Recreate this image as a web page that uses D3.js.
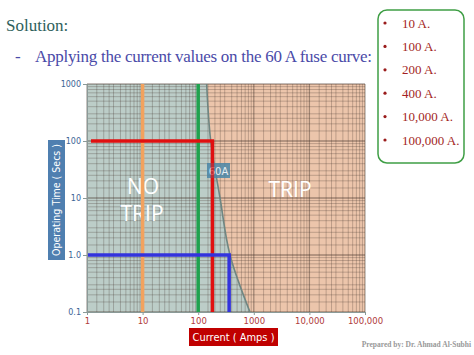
<!DOCTYPE html>
<html>
<head>
<meta charset="utf-8">
<script src="https://cdn.jsdelivr.net/npm/d3@7"></script>
<style>
  body { margin: 0; background: #fff; }
  svg { display: block; }
</style>
</head>
<body>
<div id="chart"></div>
<script>
// fuse curve (60 A)
var fuseCurrent = [142, 168, 247, 373, 853]
var fuseTime = [1000, 100, 10, 1, 0.1]

// check currents drawn on the curve
var checkCurrent = [10, 100, 180, 360]
var checkTime = [null, null, 100, 1]
var checkColor = ["#f2a25e", "#1fa24f", "#e01010", "#3333dd"]

var timeTicks = [0.1, 1, 10, 100, 1000]
var timeTickLabels = ["0.1", "1.0", "10", "100", "1000"]
var currentTicks = [1, 10, 100, 1000, 10000, 100000]
var currentTickLabels = ["1", "10", "100", "1000", "10,000", "100,000"]

var listItems = ["10 A.", "100 A.", "200 A.", "400 A.", "10,000 A.", "100,000 A."]

var width = 474, height = 355
var plot = { left: 87, right: 365, top: 84, bottom: 312 }

var svg = d3.select("#chart").append("svg")
  .attr("width", width)
  .attr("height", height)

// heading
svg.append("text")
  .attr("x", 6).attr("y", 31)
  .style("font-family", "Liberation Serif, serif")
  .style("font-size", "17px")
  .attr("fill", "#2f5f5c")
  .text("Solution:")

svg.append("text")
  .attr("x", 15).attr("y", 62)
  .style("font-family", "Liberation Serif, serif")
  .style("font-size", "17px")
  .attr("fill", "#4a4aa8")
  .text("-")

svg.append("text")
  .attr("x", 35).attr("y", 62)
  .style("font-family", "Liberation Serif, serif")
  .style("font-size", "17px")
  .attr("fill", "#4a4aa8")
  .attr("textLength", 337)
  .text("Applying the current values on the 60 A fuse curve:")

// list box
svg.append("rect")
  .attr("x", 378).attr("y", 10)
  .attr("width", 86).attr("height", 153)
  .attr("rx", 9)
  .attr("fill", "none")
  .attr("stroke", "#3f9e45")
  .attr("stroke-width", 1.5)

var items = svg.append("g").selectAll("g")
  .data(listItems).enter()
  .append("g")
  .attr("transform", (d, i) => `translate(0,${23 + i * 23.4})`)

items.append("circle")
  .attr("cx", 385).attr("cy", 0).attr("r", 1.6)
  .attr("fill", "#9a1c1c")

items.append("text")
  .attr("x", 402).attr("dy", "0.35em")
  .style("font-family", "Liberation Serif, serif")
  .style("font-size", "13px")
  .attr("fill", "#a31f24")
  .text(d => d)

// scales
var xScale = d3.scaleLog()
  .domain([1, 100000])
  .range([plot.left, plot.right])

var yScale = d3.scaleLog()
  .domain([0.1, 1000])
  .range([plot.bottom, plot.top])

var fusePoints = fuseCurrent.map((c, i) => ({ current: c, time: fuseTime[i] }))

// no-trip background
svg.append("rect")
  .attr("x", plot.left).attr("y", plot.top)
  .attr("width", plot.right - plot.left)
  .attr("height", plot.bottom - plot.top)
  .attr("fill", "#bccdc8")

// trip region, right of the curve
var tripArea = d3.area()
  .y(d => yScale(d.time))
  .x0(d => xScale(d.current))
  .x1(plot.right)
  .curve(d3.curveMonotoneY)

svg.append("path")
  .datum(fusePoints)
  .attr("d", tripArea)
  .attr("fill", "#ecc5ab")

// log grid
var gridX = [], gridY = []
for (var e = 0; e < 5; e++) {
  [1, 1.5, 2, 2.5, 3, 4, 5, 6, 7, 8, 9].forEach(k => gridX.push(k * Math.pow(10, e)))
}
gridX.push(100000)
for (var e = -1; e < 3; e++) {
  [1, 1.5, 2, 2.5, 3, 4, 5, 6, 7, 8, 9].forEach(k => gridY.push(k * Math.pow(10, e)))
}
gridY.push(1000)

var isDecade = d => Math.abs(Math.log10(d) - Math.round(Math.log10(d))) < 1e-9

var grid = svg.append("g")
grid.selectAll(".gx")
  .data(gridX).enter()
  .append("line")
  .attr("class", "gx")
  .attr("x1", d => xScale(d)).attr("x2", d => xScale(d))
  .attr("y1", plot.top).attr("y2", plot.bottom)
  .attr("stroke", d => isDecade(d) ? "rgba(70,55,45,0.45)" : "rgba(70,55,45,0.28)")
  .attr("stroke-width", d => isDecade(d) ? 1.3 : 1)

grid.selectAll(".gy")
  .data(gridY).enter()
  .append("line")
  .attr("class", "gy")
  .attr("y1", d => yScale(d)).attr("y2", d => yScale(d))
  .attr("x1", plot.left).attr("x2", plot.right)
  .attr("stroke", d => isDecade(d) ? "rgba(70,55,45,0.45)" : "rgba(70,55,45,0.28)")
  .attr("stroke-width", d => isDecade(d) ? 1.3 : 1)

// fuse curve
svg.append("path")
  .datum(fusePoints)
  .attr("d", d3.line()
    .x(d => xScale(d.current))
    .y(d => yScale(d.time))
    .curve(d3.curveMonotoneY))
  .attr("fill", "none")
  .attr("stroke", "#6f8682")
  .attr("stroke-width", 1.6)

// region labels
var regionLabels = [
  { t: "NO", x: 143, y: 194 },
  { t: "TRIP", x: 142, y: 221 },
  { t: "TRIP", x: 290, y: 197 }
]
svg.selectAll(".region")
  .data(regionLabels).enter()
  .append("text")
  .attr("class", "region")
  .attr("x", d => d.x).attr("y", d => d.y)
  .attr("text-anchor", "middle")
  .style("font-family", "Open Sans, DejaVu Sans, sans-serif")
  .style("font-size", "21px")
  .attr("fill", "#ffffff")
  .text(d => d.t)

// vertical check lines (full height for the ones without a time)
var checks = checkCurrent.map((c, i) => ({ current: c, time: checkTime[i], color: checkColor[i] }))

svg.selectAll(".vcheck")
  .data(checks).enter()
  .append("line")
  .attr("class", "vcheck")
  .attr("x1", d => xScale(d.current)).attr("x2", d => xScale(d.current))
  .attr("y1", d => d.time == null ? plot.top : yScale(d.time))
  .attr("y2", plot.bottom)
  .attr("stroke", d => d.color)
  .attr("stroke-width", 3.5)

svg.selectAll(".hcheck")
  .data(checks.filter(d => d.time != null)).enter()
  .append("line")
  .attr("class", "hcheck")
  .attr("x1", (d, i) => i == 0 ? xScale(1.18) : xScale(1))
  .attr("x2", d => xScale(d.current) + 1.75)
  .attr("y1", d => yScale(d.time)).attr("y2", d => yScale(d.time))
  .attr("stroke", d => d.color)
  .attr("stroke-width", 3.5)

// 60A tag
svg.append("rect")
  .attr("x", 207).attr("y", 163)
  .attr("width", 23).attr("height", 15)
  .attr("fill", "#4a87a8")
  .attr("opacity", 0.85)

svg.append("text")
  .attr("x", 218.5).attr("y", 174.5)
  .attr("text-anchor", "middle")
  .style("font-family", "DejaVu Sans, sans-serif")
  .style("font-size", "10px")
  .attr("fill", "#e8eef2")
  .text("60A")

svg.append("line")
  .attr("x1", xScale(180)).attr("x2", xScale(180))
  .attr("y1", 163).attr("y2", 178)
  .attr("stroke", "#e01010")
  .attr("stroke-width", 3.5)
  .attr("opacity", 0.7)

// axes
var yAxis = d3.axisLeft(yScale)
  .tickValues(timeTicks)
  .tickFormat((d, i) => timeTickLabels[i])
  .tickSize(4)
  .tickPadding(2)

svg.append("g")
  .attr("transform", `translate(${plot.left},0)`)
  .call(yAxis)
  .call(g => g.select(".domain").attr("stroke", "#8a9a98"))
  .call(g => g.selectAll(".tick line").attr("stroke", "#8a9a98"))
  .call(g => g.selectAll("text")
    .attr("fill", "#3c6496")
    .style("font-family", "DejaVu Sans, sans-serif")
    .style("font-size", "8px"))

var xAxis = d3.axisBottom(xScale)
  .tickValues(currentTicks)
  .tickFormat((d, i) => currentTickLabels[i])
  .tickSize(3)

svg.append("g")
  .attr("transform", `translate(0,${plot.bottom})`)
  .call(xAxis)
  .call(g => g.select(".domain").attr("stroke", "#8a9a98"))
  .call(g => g.selectAll(".tick line").attr("stroke", "#8a9a98"))
  .call(g => g.selectAll("text")
    .attr("fill", "#b03a3a")
    .style("font-family", "DejaVu Sans, sans-serif")
    .style("font-size", "8.5px"))

// axis titles in boxes
svg.append("rect")
  .attr("x", 48).attr("y", 140)
  .attr("width", 17).attr("height", 120)
  .attr("fill", "#4f7fb0")

svg.append("text")
  .attr("transform", "translate(60,200) rotate(-90)")
  .attr("text-anchor", "middle")
  .style("font-family", "DejaVu Sans, sans-serif")
  .style("font-size", "10px")
  .attr("fill", "#ffffff")
  .attr("textLength", 112)
  .attr("lengthAdjust", "spacingAndGlyphs")
  .text("Operating Time ( Secs )")

svg.append("rect")
  .attr("x", 189).attr("y", 328)
  .attr("width", 89).attr("height", 18)
  .attr("fill", "#c00000")

svg.append("text")
  .attr("x", 233.5).attr("y", 341)
  .attr("text-anchor", "middle")
  .style("font-family", "DejaVu Sans, sans-serif")
  .style("font-size", "11px")
  .attr("fill", "#ffffff")
  .attr("textLength", 82)
  .attr("lengthAdjust", "spacingAndGlyphs")
  .text("Current ( Amps )")

// footer
svg.append("text")
  .attr("x", 471).attr("y", 347)
  .attr("text-anchor", "end")
  .style("font-family", "Liberation Serif, serif")
  .style("font-size", "7.5px")
  .style("font-weight", "bold")
  .attr("fill", "#999")
  .text("Prepared by: Dr. Ahmad Al-Subhi")
</script>
</body>
</html>
